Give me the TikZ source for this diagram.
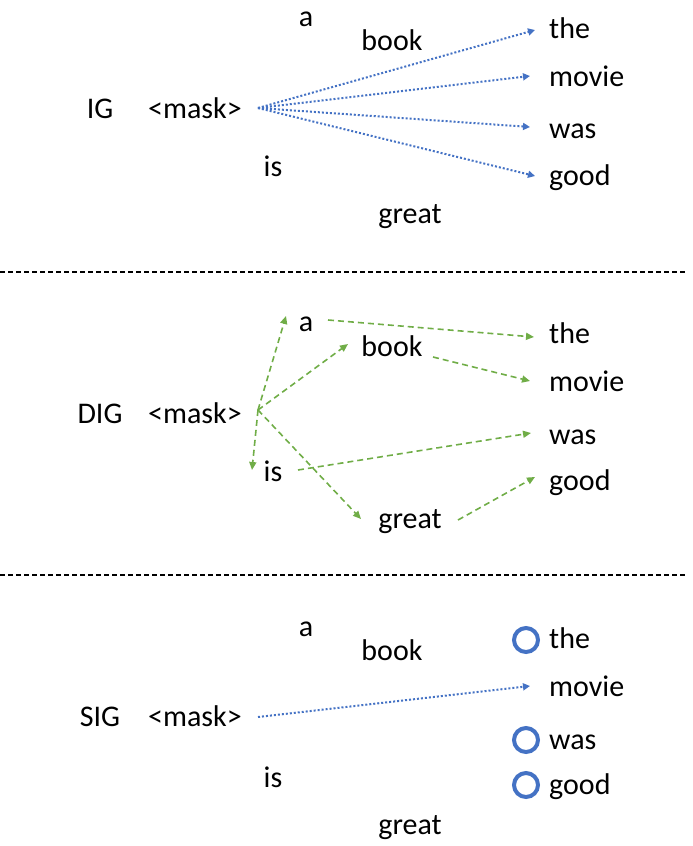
\documentclass[tikz,border=0pt]{standalone}
\usepackage{fontspec}
\setmainfont{Carlito}
\usetikzlibrary{arrows.meta}
\definecolor{ublue}{HTML}{4472C4}
\definecolor{ugreen}{HTML}{70AD47}
\begin{document}
\begin{tikzpicture}[x=1pt,y=-1pt,
 t/.style={font=\fontsize{30}{34}\selectfont,inner sep=0pt,anchor=base},
 w/.style={t,anchor=base west},
 ig/.style={ublue,line width=2pt,dotted,-{Triangle[length=7pt,width=7pt]}},
 dg/.style={ugreen,line width=1.6pt,dash pattern=on 6pt off 4pt,-{Triangle[length=8pt,width=7pt]}},
 sep/.style={black,line width=1.2pt,dash pattern=on 5pt off 3pt},
 circ/.style={ublue,line width=4pt,circle,minimum size=24pt,inner sep=0pt}]
\useasboundingbox (0,0) rectangle (693,846);
% IG
\node[t] (ig) at (100,118) {IG};
\node[t] (m1) at (195,118) {<mask>};
\node[t] (a1) at (306,26) {a};
\node[t] (b1) at (392,50) {book};
\node[w] (the1) at (549,38) {the};
\node[w] (mo1) at (549,86) {movie};
\node[w] (wa1) at (549,138) {was};
\node[w] (go1) at (549,185) {good};
\node[t] (is1) at (273,176) {is};
\node[t] (gr1) at (410,223) {great};
\coordinate (s1) at (258,108);
\draw[ig] (s1) -- (535,30);
\draw[ig] (s1) -- (530,76);
\draw[ig] (s1) -- (530,127);
\draw[ig] (s1) -- (535,176);
\coordinate (l1) at (0,272); \coordinate (r1) at (685,272);
\draw[sep] (l1) -- (r1);
% DIG
\node[t] (dig) at (100,423) {DIG};
\node[t] (m2) at (195,423) {<mask>};
\node[t] (a2) at (306,331) {a};
\node[t] (b2) at (392,356) {book};
\node[w] (the2) at (549,343) {the};
\node[w] (mo2) at (549,391) {movie};
\node[w] (wa2) at (549,444) {was};
\node[w] (go2) at (549,490) {good};
\node[t] (is2) at (273,481) {is};
\node[t] (gr2) at (410,528) {great};
\coordinate (s2) at (258,410);
\draw[dg] (s2) -- (286,316);
\draw[dg] (s2) -- (348,344);
\draw[dg] (s2) -- (252,470);
\draw[dg] (s2) -- (361,519);
\draw[dg] (328,320) -- (534,337);
\draw[dg] (433,357) -- (530,381);
\draw[dg] (298,470) -- (531,433);
\draw[dg] (458,520) -- (535,477);
\coordinate (l2) at (0,575); \coordinate (r2) at (685,575);
\draw[sep] (l2) -- (r2);
% SIG
\node[t] (sig) at (100,726) {SIG};
\node[t] (m3) at (195,726) {<mask>};
\node[t] (a3) at (306,636) {a};
\node[t] (b3) at (392,660) {book};
\node[w] (the3) at (549,648) {the};
\node[w] (mo3) at (549,696) {movie};
\node[w] (wa3) at (549,749) {was};
\node[w] (go3) at (549,794) {good};
\node[t] (is3) at (273,787) {is};
\node[t] (gr3) at (410,834) {great};
\coordinate (s3) at (258,717);
\draw[ig] (s3) -- (530,686);
\node[circ,draw] (c1) at (526,640) {};
\node[circ,draw] (c2) at (526,740) {};
\node[circ,draw] (c3) at (526,785) {};
\end{tikzpicture}
\end{document}
